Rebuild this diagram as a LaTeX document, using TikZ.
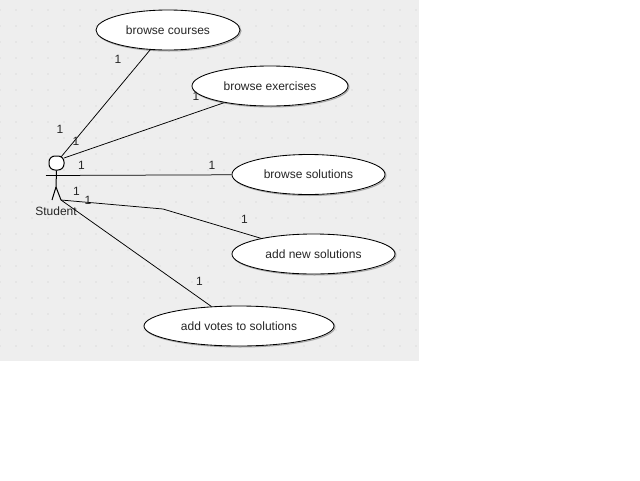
\documentclass[tikz,border=0pt]{standalone}
\usepackage{fontspec}
\setmainfont{Liberation Sans}
\usetikzlibrary{shapes.geometric}
\definecolor{canvas}{HTML}{EEEEEE}
\definecolor{griddot}{HTML}{DCDCDC}
\tikzset{
  x=1pt,y=-1pt,
  lbl/.style={font=\fontsize{12}{14}\selectfont,inner sep=0pt,text=black!85},
  usecase/.style={ellipse,draw=black,line width=.85pt,fill=white,inner sep=0pt,minimum height=40pt,
     font=\fontsize{12}{14}\selectfont,text=black!85},
  shadowcase/.style={ellipse,draw=black!35,line width=1pt,inner sep=0pt,minimum height=40pt},
  conn/.style={draw=black,line width=.75pt},
  actor/.style={draw=black,line width=1pt},
}
\begin{document}
\begin{tikzpicture}
\useasboundingbox (0,0) rectangle (640,480);
\fill[white] (0,0) rectangle (640,480);
\fill[canvas] (0,0) rectangle (419,361);
\foreach \i in {0,...,26}{\foreach \j in {0,...,21}{
  \fill[griddot] ({\i*16},{10+\j*16}) circle[radius=.8pt];
}}
% drop shadows
\foreach \cx/\cy/\w in {168/30/144,270/86/156,308.5/174.5/153,313.5/254/163,239/326/190}{
  \node[shadowcase,minimum width=\w pt] at (\cx+1,\cy+1) {};
}
% use cases
\node[usecase,minimum width=144pt] (courses) at (168,30) {browse courses};
\node[usecase,minimum width=156pt] (exercises) at (270,86) {browse exercises};
\node[usecase,minimum width=153pt] (solutions) at (308.5,174.5) {browse solutions};
\node[usecase,minimum width=163pt] (newsol) at (313.5,254) {add new solutions};
\node[usecase,minimum width=190pt] (votes) at (239,326) {add votes to solutions};
% actor
\node[actor,rounded corners=6pt,minimum width=15pt,minimum height=14pt,inner sep=0pt,fill=white] (head) at (56.5,163) {};
\coordinate (hip) at (56,187);
\coordinate (armL) at (46,175.5);
\coordinate (footL) at (52,200);
\coordinate (footR) at (61,200);
\coordinate (bend) at (163,209);
\coordinate (headA) at (61,157);
\coordinate (headB) at (64,158);
\draw[actor] (head.south) -- (hip);
\draw[actor] (hip) -- (footL);
\draw[actor] (hip) -- (footR);
\node[lbl] (student) at (56,211.5) {Student};
% connectors
\draw[conn] (headA) -- (courses.228);
\draw[conn] (headB) -- (exercises.200);
\draw[conn] (armL) -- (solutions);
\draw[conn] (footR) -- (bend) -- (newsol);
\draw[conn] (footR) -- (votes);
% multiplicities
\node[lbl] (m1) at (118,59.5) {1};
\node[lbl] (m2) at (60,129.5) {1};
\node[lbl] (m3) at (76,141.5) {1};
\node[lbl] (m4) at (196,96.5) {1};
\node[lbl] (m5) at (81.5,165.5) {1};
\node[lbl] (m6) at (212,165.5) {1};
\node[lbl] (m7) at (76.5,191.5) {1};
\node[lbl] (m8) at (88,200.5) {1};
\node[lbl] (m9) at (244.5,219.5) {1};
\node[lbl] (m10) at (199.5,281.5) {1};
\end{tikzpicture}
\end{document}
